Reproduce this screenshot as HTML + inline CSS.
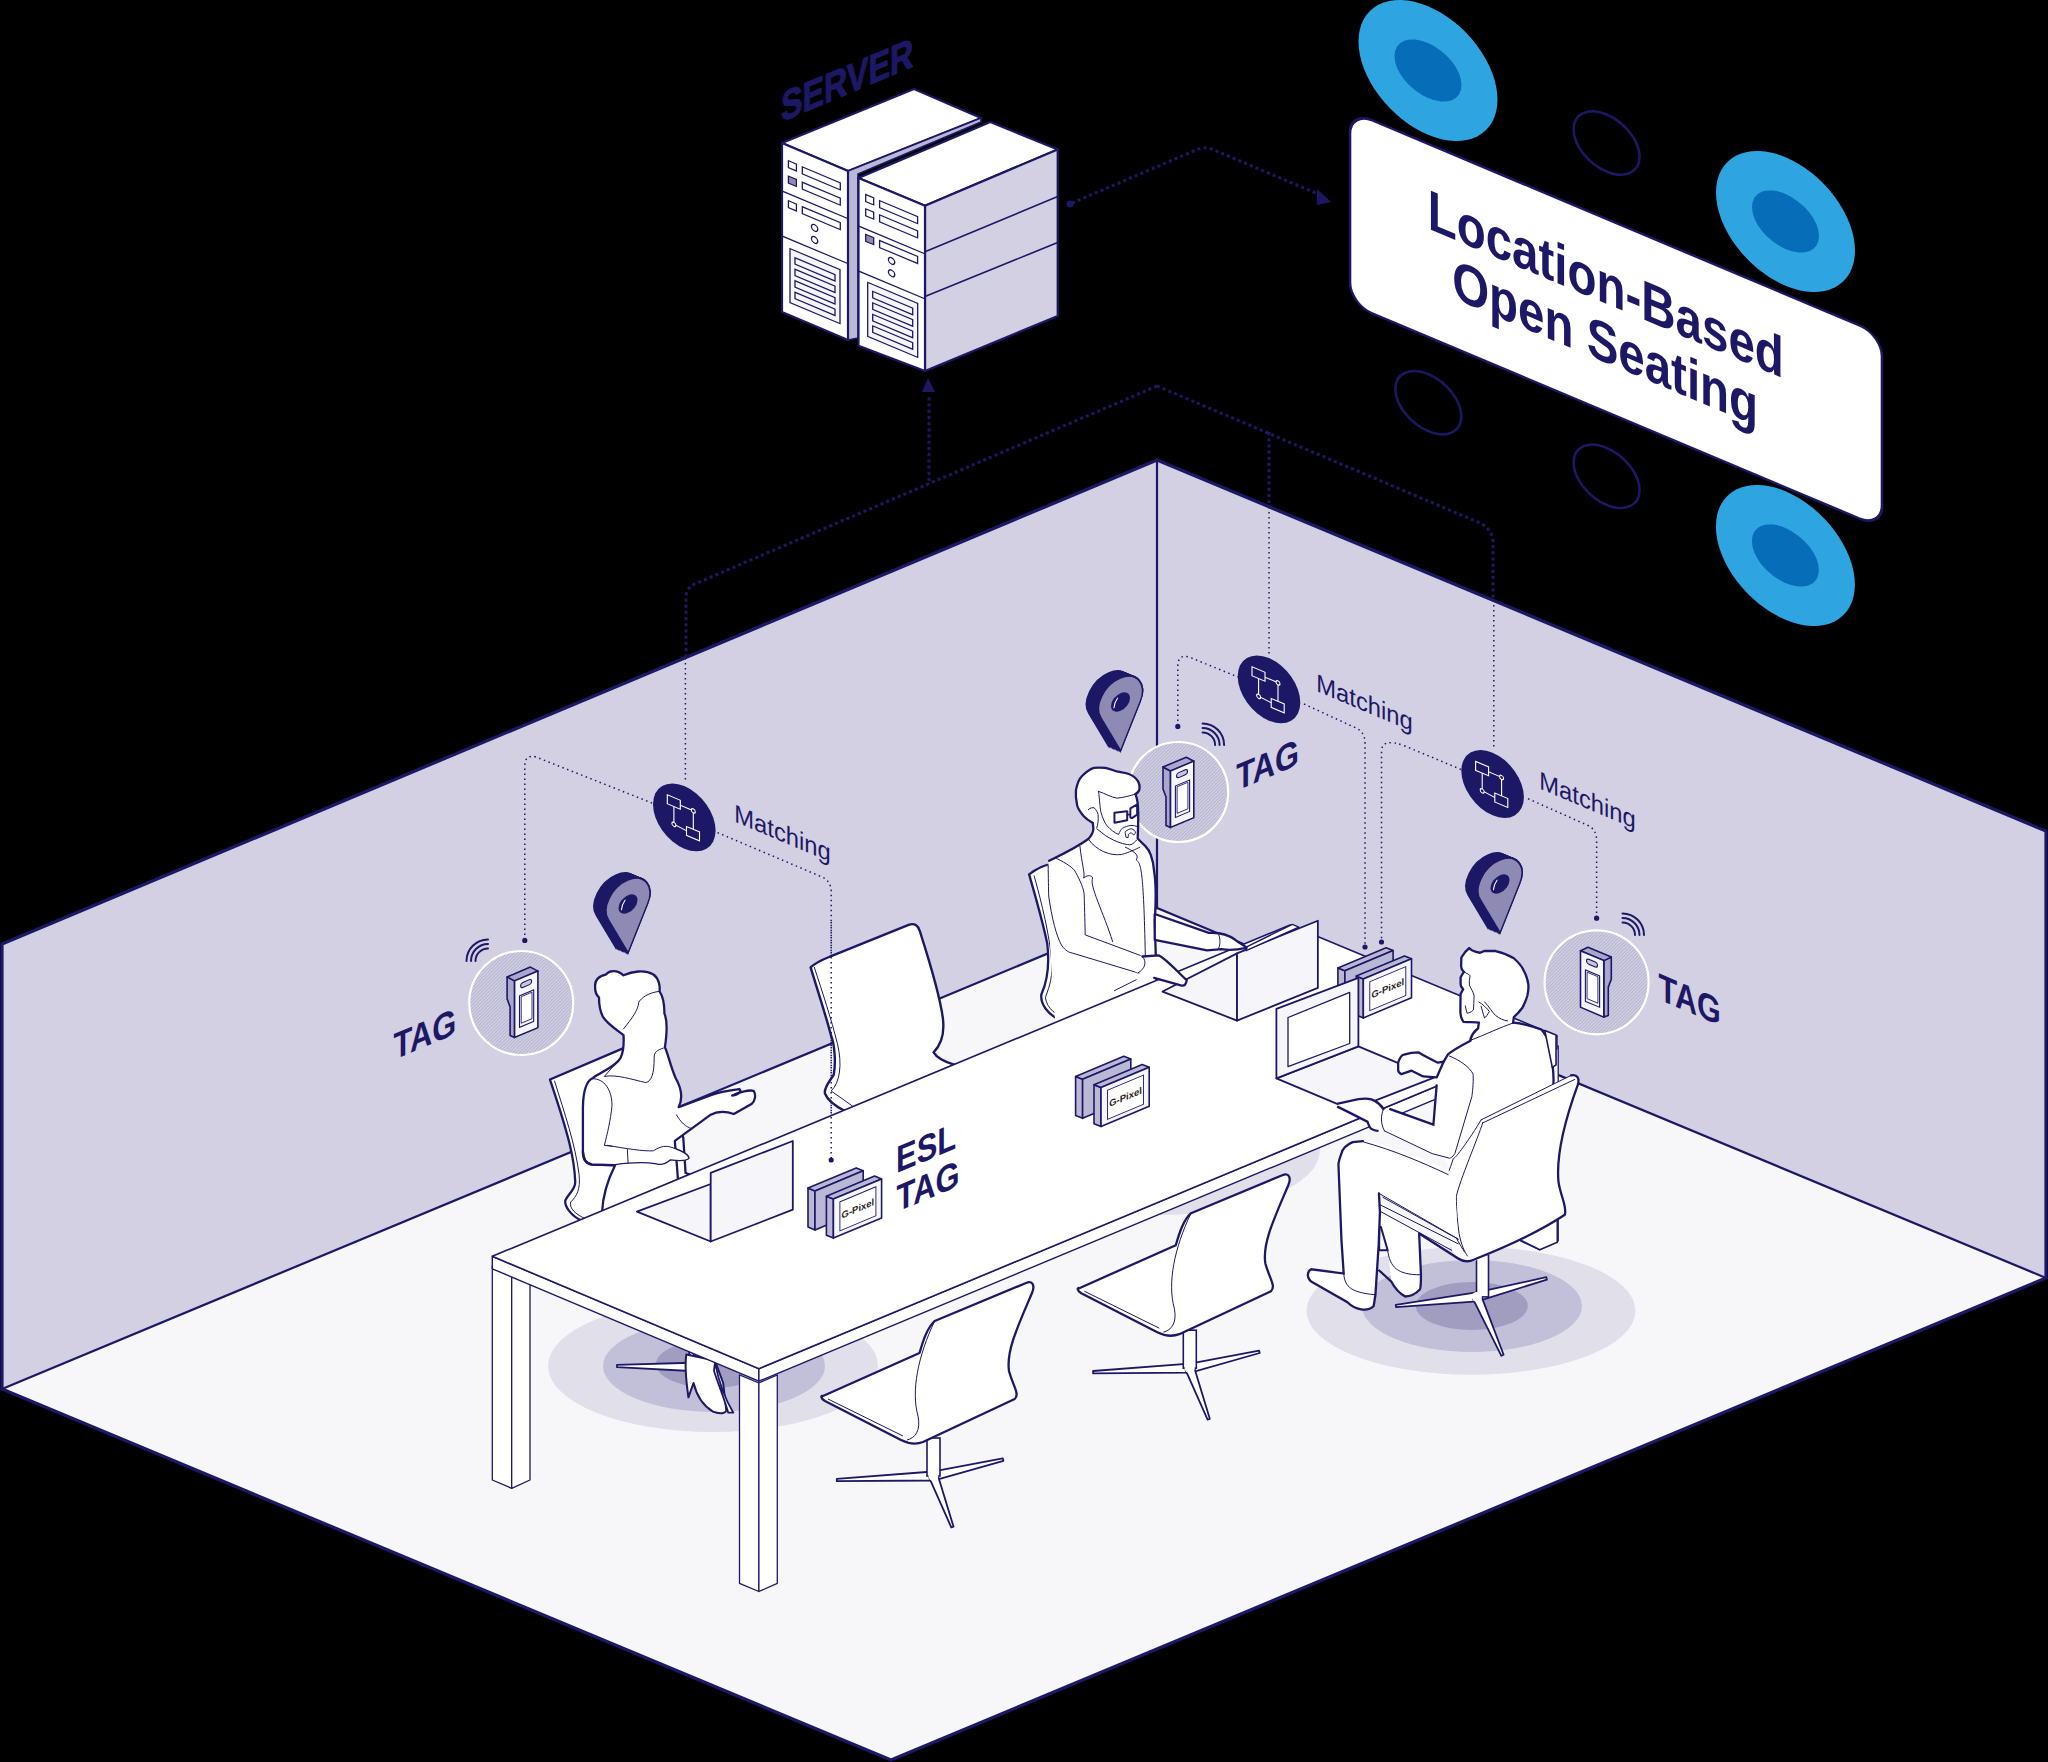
<!DOCTYPE html>
<html><head><meta charset="utf-8"><style>
html,body{margin:0;padding:0;background:#000;width:2048px;height:1762px;overflow:hidden}
svg{display:block}
</style></head><body>
<svg width="2048" height="1762" viewBox="0 0 2048 1762">
<defs>
<pattern id="hatch" patternUnits="userSpaceOnUse" width="2.4" height="2.4" patternTransform="rotate(-45)">
<rect width="2.4" height="2.4" fill="#d0cee1"/><rect width="2.4" height="0.9" fill="#b6b4cf"/>
</pattern>
</defs>
<rect width="2048" height="1762" fill="#000"/>
<g fill="none" stroke="#1d1866" stroke-width="3" stroke-dasharray="3 3.2">
<path d="M1072,203 L1196,150 Q1205,146 1214,150 L1318,194"/>
<path d="M929,481 L929,395"/>
<path d="M1157,386 L697,583 Q686,587 686,598 L686,657"/>
<path d="M1157,386 L1480,523 Q1493,530 1493,542 L1493,678"/>
<path d="M1269,432 L1269,503"/>
</g>
<circle cx="1070" cy="204" r="3.5" fill="#1d1866"/>
<path d="M1317,189 L1331,202 L1317,205 Z" fill="#1d1866"/>
<path d="M928,378 L935,392 L922,392 Z" fill="#1d1866"/>
<g stroke="#1d1866" stroke-linejoin="round">
<polygon points="782.0,143.0 914.0,89.0 981.0,118.0 848.0,171.0" fill="#ffffff" stroke-width="2.2"/>
<polygon points="848.0,171.0 981.0,118.0 981.0,122.0 858.0,174.0 858.0,338.0 848.0,340.0" fill="#bab8d6" stroke-width="1.6"/>
<polygon points="782.0,143.0 848.0,171.0 848.0,340.0 782.0,312.0" fill="#ffffff" stroke-width="2.2"/>
</g>
<g transform="matrix(1,0.419,0,1,782,143)" fill="none" stroke="#1d1866" stroke-width="1.3">
<path d="M0,48 L66,48 M0,93 L66,93"/>
<rect x="6.4" y="15" width="8" height="7"/>
<rect x="6.4" y="30.4" width="8" height="7" fill="#8e8ab3"/>
<rect x="20.3" y="15.4" width="38" height="7"/>
<rect x="20.3" y="30.7" width="38" height="7"/>
<rect x="6.4" y="55" width="8" height="7"/>
<rect x="20.3" y="55.2" width="38" height="7"/>
<circle cx="32.6" cy="71.2" r="3.2"/><circle cx="32.6" cy="83.3" r="3.2"/>
<rect x="8" y="102.3" width="50" height="54" fill="#f6f6fa"/>
<rect x="13" y="109.3" width="40" height="6.5"/>
<rect x="13" y="120.8" width="40" height="6.5"/>
<rect x="13" y="132.3" width="40" height="6.5"/>
<rect x="13" y="143.8" width="40" height="6.5"/>
</g>
<g stroke="#1d1866" stroke-linejoin="round">
<polygon points="858.5,178.0 990.3,122.0 1057.7,149.5 925.0,205.7" fill="#ffffff" stroke-width="2.2"/>
<polygon points="925.0,205.7 1057.7,149.5 1057.7,316.0 925.0,371.0" fill="#d2d0e2" stroke-width="2.2"/>
<polygon points="858.5,178.0 925.0,205.7 925.0,371.0 858.5,345.7" fill="#ffffff" stroke-width="2.2"/>
<path d="M925,251.7 L1057.7,196.5 M925,296.6 L1057.7,242.5" fill="none" stroke-width="1.6"/>
</g>
<g transform="matrix(1,0.419,0,1,858.5,178)" fill="none" stroke="#1d1866" stroke-width="1.3">
<path d="M0,48 L66.5,48 M0,93 L66.5,93"/>
<rect x="7.2" y="13.5" width="8" height="7"/>
<rect x="7.2" y="27.8" width="8" height="7"/>
<rect x="21.1" y="13.8" width="38" height="7"/>
<rect x="21.1" y="28.1" width="38" height="7"/>
<rect x="7.2" y="53.3" width="8" height="7" fill="#8e8ab3"/>
<rect x="21.1" y="53.7" width="38" height="7"/>
<circle cx="33.1" cy="69.1" r="3.2"/><circle cx="33.1" cy="81.4" r="3.2"/>
<rect x="9.2" y="100.5" width="50" height="54" fill="#f6f6fa"/>
<rect x="14.2" y="107.5" width="40" height="6.5"/>
<rect x="14.2" y="119.0" width="40" height="6.5"/>
<rect x="14.2" y="130.5" width="40" height="6.5"/>
<rect x="14.2" y="142.0" width="40" height="6.5"/>
</g>
<text transform="matrix(0.777,-0.3256,0,1,781,122)" font-family="Liberation Sans" font-weight="bold" font-size="41.6" fill="#1d1866" stroke="#1d1866" stroke-width="1.1">SERVER</text>
<ellipse cx="0" cy="0" rx="1" ry="1" transform="matrix(69.5,29.1,0,64.2,1428,70.5)" fill="#2ea4e0" vector-effect="non-scaling-stroke"/>
<ellipse cx="0" cy="0" rx="1" ry="1" transform="matrix(33.5,14.5,0,27.5,1428,70.5)" fill="#066db8" vector-effect="non-scaling-stroke"/>
<ellipse cx="0" cy="0" rx="1" ry="1" transform="matrix(69.5,29.1,0,64.2,1785.5,221.5)" fill="#2ea4e0" vector-effect="non-scaling-stroke"/>
<ellipse cx="0" cy="0" rx="1" ry="1" transform="matrix(33.5,14.5,0,27.5,1785.5,221.5)" fill="#066db8" vector-effect="non-scaling-stroke"/>
<ellipse cx="0" cy="0" rx="1" ry="1" transform="matrix(69.5,29.1,0,64.2,1785.4,555.5)" fill="#2ea4e0" vector-effect="non-scaling-stroke"/>
<ellipse cx="0" cy="0" rx="1" ry="1" transform="matrix(33.5,14.5,0,27.5,1785.4,555.5)" fill="#066db8" vector-effect="non-scaling-stroke"/>
<ellipse cx="0" cy="0" rx="1" ry="1" transform="matrix(33,13.8,0,28.5,1606.6,143)" fill="none" stroke="#1d1866" stroke-width="2.5" vector-effect="non-scaling-stroke"/>
<ellipse cx="0" cy="0" rx="1" ry="1" transform="matrix(33,13.8,0,28.5,1428.3,402.7)" fill="none" stroke="#1d1866" stroke-width="2.5" vector-effect="non-scaling-stroke"/>
<ellipse cx="0" cy="0" rx="1" ry="1" transform="matrix(33,13.8,0,28.5,1606.6,476.3)" fill="none" stroke="#1d1866" stroke-width="2.5" vector-effect="non-scaling-stroke"/>
<rect x="0" y="0" width="532" height="193" rx="22" ry="22" transform="matrix(1,0.421,0,1,1350,111)" fill="#ffffff" stroke="#1d1866" stroke-width="2.6"/>
<g font-family="Liberation Sans" font-weight="bold" font-size="57" fill="#1d1866" text-anchor="middle">
<text transform="matrix(0.833,0.3507,0,1,1605.75,303.5)">Location-Based</text>
<text transform="matrix(0.833,0.3507,0,1,1605.1,362.2)">Open Seating</text>
</g>
<polygon points="2.0,944.0 1157.0,460.0 1157.0,908.0 2.0,1389.0" fill="#d2d0e2"/>
<polygon points="1157.0,460.0 2046.0,831.0 2046.0,1278.0 1157.0,908.0" fill="#d2d0e2"/>
<polygon points="2.0,1389.0 1157.0,908.0 2046.0,1278.0 891.0,1760.0" fill="#f7f7fa"/>
<path d="M2,1389 L1157,908 L2046,1278 M1157,460 L1157,908" fill="none" stroke="#1d1866" stroke-width="2.2"/>
<polygon points="2.0,944.0 1157.0,460.0 2046.0,831.0 2046.0,1278.0 891.0,1760.0 2.0,1389.0" fill="none" stroke="#1d1866" stroke-width="3.2" stroke-linejoin="miter"/>
<g fill="none" stroke="#1d1866" stroke-width="1.5" stroke-dasharray="1.5 3.5" stroke-linecap="butt">
<path d="M524.8,940 L524.8,766 Q524.8,754 536,757 L652,803"/>
<path d="M717.5,832.6 L822,877 Q831.2,881 831.2,892 L831.2,1160"/>
<path d="M685.4,658 L685.4,780"/>
<path d="M1177.8,726 L1177.8,666 Q1177.8,654 1189,657 L1238,677"/>
<path d="M1304,704 L1356,728 Q1365,732 1365,743 L1365,947"/>
<path d="M1269,507 L1269,656"/>
<path d="M1596.6,918 L1596.6,840 Q1596.6,829 1587,825 L1525.5,797.6"/>
<path d="M1461,769.5 L1405,746 Q1381.5,737 1381.5,752 L1381.5,942"/>
<path d="M1493.8,600 L1493.8,750"/>
</g>
<circle cx="524.8" cy="940.4" r="2.6" fill="#1d1866"/>
<circle cx="831.2" cy="1160" r="2.6" fill="#1d1866"/>
<circle cx="1177.8" cy="726.4" r="2.6" fill="#1d1866"/>
<circle cx="1365" cy="947" r="2.6" fill="#1d1866"/>
<circle cx="1596.6" cy="918.2" r="2.6" fill="#1d1866"/>
<circle cx="1381.5" cy="942" r="2.6" fill="#1d1866"/>
<ellipse cx="0" cy="0" rx="31.3" ry="31.3" transform="matrix(1,0.42,0,1,684.3,817.4)" fill="#1d1866"/>
<g transform="matrix(1,0.42,0,1,684.3,817.4)" fill="none" stroke="#ffffff" stroke-width="1.1">
<rect x="-17" y="-15.5" width="13" height="9"/>
<rect x="2.2" y="8.1" width="13" height="9"/>
<path d="M-4,-10.5 L7,-10.5 M9,-8.3 L9,8.1 M-10.4,-6.5 L-10.4,9.3 M-8.4,11.3 L2.2,12.5"/>
<circle cx="9" cy="-10.3" r="2"/><circle cx="-10.4" cy="11.3" r="2"/>
</g>
<text transform="matrix(0.94,0.3948,0,1,734.3,821.5)" font-family="Liberation Sans" font-size="25.3" fill="#1d1866">Matching</text>
<ellipse cx="0" cy="0" rx="31.3" ry="31.3" transform="matrix(1,0.42,0,1,1269,689.4)" fill="#1d1866"/>
<g transform="matrix(1,0.42,0,1,1269,689.4)" fill="none" stroke="#ffffff" stroke-width="1.1">
<rect x="-17" y="-15.5" width="13" height="9"/>
<rect x="2.2" y="8.1" width="13" height="9"/>
<path d="M-4,-10.5 L7,-10.5 M9,-8.3 L9,8.1 M-10.4,-6.5 L-10.4,9.3 M-8.4,11.3 L2.2,12.5"/>
<circle cx="9" cy="-10.3" r="2"/><circle cx="-10.4" cy="11.3" r="2"/>
</g>
<text transform="matrix(0.94,0.3948,0,1,1316.3,691)" font-family="Liberation Sans" font-size="25.3" fill="#1d1866">Matching</text>
<ellipse cx="0" cy="0" rx="31.3" ry="31.3" transform="matrix(1,0.42,0,1,1492.6,784)" fill="#1d1866"/>
<g transform="matrix(1,0.42,0,1,1492.6,784)" fill="none" stroke="#ffffff" stroke-width="1.1">
<rect x="-17" y="-15.5" width="13" height="9"/>
<rect x="2.2" y="8.1" width="13" height="9"/>
<path d="M-4,-10.5 L7,-10.5 M9,-8.3 L9,8.1 M-10.4,-6.5 L-10.4,9.3 M-8.4,11.3 L2.2,12.5"/>
<circle cx="9" cy="-10.3" r="2"/><circle cx="-10.4" cy="11.3" r="2"/>
</g>
<text transform="matrix(0.94,0.3948,0,1,1539.3,788.5)" font-family="Liberation Sans" font-size="25.3" fill="#1d1866">Matching</text>
<path d="M0,51 L-19.6,10 A22,22 0 1 1 19.6,10 Z" transform="matrix(1,-0.42,0,1,628.00,902.00)" fill="#1d1866" stroke="#1d1866" stroke-width="1.5"/>
<path d="M0,51 L-19.6,10 A22,22 0 1 1 19.6,10 Z" transform="matrix(1,-0.42,0,1,626.67,901.44)" fill="#1d1866" stroke="#1d1866" stroke-width="1.5"/>
<path d="M0,51 L-19.6,10 A22,22 0 1 1 19.6,10 Z" transform="matrix(1,-0.42,0,1,625.33,900.89)" fill="#1d1866" stroke="#1d1866" stroke-width="1.5"/>
<path d="M0,51 L-19.6,10 A22,22 0 1 1 19.6,10 Z" transform="matrix(1,-0.42,0,1,624.00,900.33)" fill="#1d1866" stroke="#1d1866" stroke-width="1.5"/>
<path d="M0,51 L-19.6,10 A22,22 0 1 1 19.6,10 Z" transform="matrix(1,-0.42,0,1,622.67,899.78)" fill="#1d1866" stroke="#1d1866" stroke-width="1.5"/>
<path d="M0,51 L-19.6,10 A22,22 0 1 1 19.6,10 Z" transform="matrix(1,-0.42,0,1,621.33,899.22)" fill="#1d1866" stroke="#1d1866" stroke-width="1.5"/>
<path d="M0,51 L-19.6,10 A22,22 0 1 1 19.6,10 Z" transform="matrix(1,-0.42,0,1,620.00,898.67)" fill="#1d1866" stroke="#1d1866" stroke-width="1.5"/>
<path d="M0,51 L-19.6,10 A22,22 0 1 1 19.6,10 Z" transform="matrix(1,-0.42,0,1,618.67,898.11)" fill="#1d1866" stroke="#1d1866" stroke-width="1.5"/>
<path d="M0,51 L-19.6,10 A22,22 0 1 1 19.6,10 Z" transform="matrix(1,-0.42,0,1,617.33,897.56)" fill="#1d1866" stroke="#1d1866" stroke-width="1.5"/>
<path d="M0,51 L-19.6,10 A22,22 0 1 1 19.6,10 Z" transform="matrix(1,-0.42,0,1,616.00,897.00)" fill="#1d1866" stroke="#1d1866" stroke-width="1.5"/>
<path d="M0,51 L-19.6,10 A22,22 0 1 1 19.6,10 Z" transform="matrix(1,-0.42,0,1,628,902)" fill="#8e8ab3" stroke="#1d1866" stroke-width="1.6"/>
<ellipse cx="0" cy="2" rx="9.5" ry="8.8" transform="matrix(1,-0.42,0,1,628,902)" fill="#1d1866"/>
<path d="M-6.5,5 Q-6,0 -3,-3" transform="matrix(1,-0.42,0,1,628,902)" fill="none" stroke="#ffffff" stroke-width="1.2" stroke-linecap="round"/>
<path d="M0,51 L-19.6,10 A22,22 0 1 1 19.6,10 Z" transform="matrix(1,-0.42,0,1,1120.50,700.00)" fill="#1d1866" stroke="#1d1866" stroke-width="1.5"/>
<path d="M0,51 L-19.6,10 A22,22 0 1 1 19.6,10 Z" transform="matrix(1,-0.42,0,1,1119.17,699.44)" fill="#1d1866" stroke="#1d1866" stroke-width="1.5"/>
<path d="M0,51 L-19.6,10 A22,22 0 1 1 19.6,10 Z" transform="matrix(1,-0.42,0,1,1117.83,698.89)" fill="#1d1866" stroke="#1d1866" stroke-width="1.5"/>
<path d="M0,51 L-19.6,10 A22,22 0 1 1 19.6,10 Z" transform="matrix(1,-0.42,0,1,1116.50,698.33)" fill="#1d1866" stroke="#1d1866" stroke-width="1.5"/>
<path d="M0,51 L-19.6,10 A22,22 0 1 1 19.6,10 Z" transform="matrix(1,-0.42,0,1,1115.17,697.78)" fill="#1d1866" stroke="#1d1866" stroke-width="1.5"/>
<path d="M0,51 L-19.6,10 A22,22 0 1 1 19.6,10 Z" transform="matrix(1,-0.42,0,1,1113.83,697.22)" fill="#1d1866" stroke="#1d1866" stroke-width="1.5"/>
<path d="M0,51 L-19.6,10 A22,22 0 1 1 19.6,10 Z" transform="matrix(1,-0.42,0,1,1112.50,696.67)" fill="#1d1866" stroke="#1d1866" stroke-width="1.5"/>
<path d="M0,51 L-19.6,10 A22,22 0 1 1 19.6,10 Z" transform="matrix(1,-0.42,0,1,1111.17,696.11)" fill="#1d1866" stroke="#1d1866" stroke-width="1.5"/>
<path d="M0,51 L-19.6,10 A22,22 0 1 1 19.6,10 Z" transform="matrix(1,-0.42,0,1,1109.83,695.56)" fill="#1d1866" stroke="#1d1866" stroke-width="1.5"/>
<path d="M0,51 L-19.6,10 A22,22 0 1 1 19.6,10 Z" transform="matrix(1,-0.42,0,1,1108.50,695.00)" fill="#1d1866" stroke="#1d1866" stroke-width="1.5"/>
<path d="M0,51 L-19.6,10 A22,22 0 1 1 19.6,10 Z" transform="matrix(1,-0.42,0,1,1120.5,700)" fill="#8e8ab3" stroke="#1d1866" stroke-width="1.6"/>
<ellipse cx="0" cy="2" rx="9.5" ry="8.8" transform="matrix(1,-0.42,0,1,1120.5,700)" fill="#1d1866"/>
<path d="M-6.5,5 Q-6,0 -3,-3" transform="matrix(1,-0.42,0,1,1120.5,700)" fill="none" stroke="#ffffff" stroke-width="1.2" stroke-linecap="round"/>
<path d="M0,51 L-19.6,10 A22,22 0 1 1 19.6,10 Z" transform="matrix(1,-0.42,0,1,1500.00,882.00)" fill="#1d1866" stroke="#1d1866" stroke-width="1.5"/>
<path d="M0,51 L-19.6,10 A22,22 0 1 1 19.6,10 Z" transform="matrix(1,-0.42,0,1,1498.67,881.44)" fill="#1d1866" stroke="#1d1866" stroke-width="1.5"/>
<path d="M0,51 L-19.6,10 A22,22 0 1 1 19.6,10 Z" transform="matrix(1,-0.42,0,1,1497.33,880.89)" fill="#1d1866" stroke="#1d1866" stroke-width="1.5"/>
<path d="M0,51 L-19.6,10 A22,22 0 1 1 19.6,10 Z" transform="matrix(1,-0.42,0,1,1496.00,880.33)" fill="#1d1866" stroke="#1d1866" stroke-width="1.5"/>
<path d="M0,51 L-19.6,10 A22,22 0 1 1 19.6,10 Z" transform="matrix(1,-0.42,0,1,1494.67,879.78)" fill="#1d1866" stroke="#1d1866" stroke-width="1.5"/>
<path d="M0,51 L-19.6,10 A22,22 0 1 1 19.6,10 Z" transform="matrix(1,-0.42,0,1,1493.33,879.22)" fill="#1d1866" stroke="#1d1866" stroke-width="1.5"/>
<path d="M0,51 L-19.6,10 A22,22 0 1 1 19.6,10 Z" transform="matrix(1,-0.42,0,1,1492.00,878.67)" fill="#1d1866" stroke="#1d1866" stroke-width="1.5"/>
<path d="M0,51 L-19.6,10 A22,22 0 1 1 19.6,10 Z" transform="matrix(1,-0.42,0,1,1490.67,878.11)" fill="#1d1866" stroke="#1d1866" stroke-width="1.5"/>
<path d="M0,51 L-19.6,10 A22,22 0 1 1 19.6,10 Z" transform="matrix(1,-0.42,0,1,1489.33,877.56)" fill="#1d1866" stroke="#1d1866" stroke-width="1.5"/>
<path d="M0,51 L-19.6,10 A22,22 0 1 1 19.6,10 Z" transform="matrix(1,-0.42,0,1,1488.00,877.00)" fill="#1d1866" stroke="#1d1866" stroke-width="1.5"/>
<path d="M0,51 L-19.6,10 A22,22 0 1 1 19.6,10 Z" transform="matrix(1,-0.42,0,1,1500,882)" fill="#8e8ab3" stroke="#1d1866" stroke-width="1.6"/>
<ellipse cx="0" cy="2" rx="9.5" ry="8.8" transform="matrix(1,-0.42,0,1,1500,882)" fill="#1d1866"/>
<path d="M-6.5,5 Q-6,0 -3,-3" transform="matrix(1,-0.42,0,1,1500,882)" fill="none" stroke="#ffffff" stroke-width="1.2" stroke-linecap="round"/>
<circle cx="521.2" cy="1003" r="52" fill="url(#hatch)" stroke="#ffffff" stroke-width="2.2"/>
<g stroke="#1d1866" stroke-width="1.6" stroke-linejoin="round">
<polygon points="514.6,980.9 507.1,976.9 507.1,998.9 510.1,1006.9 510.1,1035.4 514.6,1037.4" fill="#a9a7cb"/>
<polygon points="514.6,980.9 507.1,976.9 530.4,967.1 537.9,971.1" fill="#a9a7cb"/>
<g transform="matrix(1,-0.42,0,1,514.6,980.9)">
<rect x="0" y="0" width="23.3" height="56.5" fill="#f6f6fa"/>
<rect x="6" y="5" width="11" height="5" rx="2.5" fill="#c9c7dc" stroke-width="1.1"/>
<rect x="4.9" y="17" width="14.2" height="31.5" fill="#f6f6fa" stroke-width="1.1"/>
<rect x="6.6" y="18.6" width="10.8" height="26.5" fill="#ffffff" stroke-width="0.8"/>
</g></g>
<circle cx="1178.2" cy="792" r="50" fill="url(#hatch)" stroke="#ffffff" stroke-width="2.2"/>
<g stroke="#1d1866" stroke-width="1.6" stroke-linejoin="round">
<polygon points="1170.5,771.0 1163.0,767.0 1163.0,789.0 1166.0,797.0 1166.0,825.5 1170.5,827.5" fill="#a9a7cb"/>
<polygon points="1170.5,771.0 1163.0,767.0 1186.3,757.2 1193.8,761.2" fill="#a9a7cb"/>
<g transform="matrix(1,-0.42,0,1,1170.5,771)">
<rect x="0" y="0" width="23.3" height="56.5" fill="#f6f6fa"/>
<rect x="6" y="5" width="11" height="5" rx="2.5" fill="#c9c7dc" stroke-width="1.1"/>
<rect x="4.9" y="17" width="14.2" height="31.5" fill="#f6f6fa" stroke-width="1.1"/>
<rect x="6.6" y="18.6" width="10.8" height="26.5" fill="#ffffff" stroke-width="0.8"/>
</g></g>
<circle cx="1596.6" cy="982.3" r="52" fill="url(#hatch)" stroke="#ffffff" stroke-width="2.2"/>
<g stroke="#1d1866" stroke-width="1.6" stroke-linejoin="round">
<polygon points="1603.8,960.6 1611.3,957.1 1611.3,979.1 1608.3,987.1 1608.3,1015.6 1603.8,1017.1" fill="#a9a7cb"/>
<polygon points="1580.5,950.8 1588.0,947.3 1611.3,957.1 1603.8,960.6" fill="#a9a7cb"/>
<g transform="matrix(1,0.42,0,1,1580.5,950.8)">
<rect x="0" y="0" width="23.3" height="56.5" fill="#f6f6fa"/>
<rect x="6" y="5" width="11" height="5" rx="2.5" fill="#c9c7dc" stroke-width="1.1"/>
<rect x="4.9" y="17" width="14.2" height="31.5" fill="#f6f6fa" stroke-width="1.1"/>
<rect x="6.6" y="18.6" width="10.8" height="26.5" fill="#ffffff" stroke-width="0.8"/>
</g></g>
<g fill="none" stroke="#1d1866" stroke-width="2" stroke-linecap="round">
<path d="M475.5,961 A12.5,12.5 0 0 1 488,948.5"/>
<path d="M471,961 A17,17 0 0 1 488,944"/>
<path d="M466.5,961 A21.5,21.5 0 0 1 488,939.5"/>
</g>
<g fill="none" stroke="#1d1866" stroke-width="2" stroke-linecap="round">
<path d="M1202.6,732.5 A12.5,12.5 0 0 1 1215.1,745"/>
<path d="M1202.6,728 A17,17 0 0 1 1219.6,745"/>
<path d="M1202.6,723.5 A21.5,21.5 0 0 1 1224.1,745"/>
</g>
<g fill="none" stroke="#1d1866" stroke-width="2" stroke-linecap="round">
<path d="M1622.5,922.5 A12.5,12.5 0 0 1 1635.0,935"/>
<path d="M1622.5,918 A17,17 0 0 1 1639.5,935"/>
<path d="M1622.5,913.5 A21.5,21.5 0 0 1 1644.0,935"/>
</g>
<text transform="matrix(0.82,-0.3428,0,1,393.5,1060)" font-family="Liberation Sans" font-weight="bold" font-size="37.6" fill="#1d1866">TAG</text>
<text transform="matrix(0.82,-0.3428,0,1,1236.3,790.8)" font-family="Liberation Sans" font-weight="bold" font-size="37.6" fill="#1d1866">TAG</text>
<text transform="matrix(0.8,0.3360,0,1,1658.5,999.6)" font-family="Liberation Sans" font-weight="bold" font-size="38.2" fill="#1d1866">TAG</text>
<ellipse cx="713" cy="1366" rx="165" ry="66" fill="#e0dfea"/>
<ellipse cx="714" cy="1366" rx="111" ry="46" fill="#c2c0d8"/>
<ellipse cx="712" cy="1364" rx="56" ry="24" fill="#a09dc0"/>
<ellipse cx="1471" cy="1310.7" rx="164.5" ry="64" fill="#e0dfea"/>
<ellipse cx="1472" cy="1306" rx="110" ry="46" fill="#c2c0d8"/>
<ellipse cx="1471.8" cy="1306" rx="56" ry="24" fill="#a09dc0"/>
<ellipse cx="1160" cy="1150" rx="160" ry="65" fill="#e0dfea"/>
<polygon points="700.1,1362.5 617.0,1364.8 617.0,1367.2 699.9,1371.5" fill="#ffffff" stroke="#1d1866" stroke-width="1.8" stroke-linejoin="round"/>
<polygon points="703.7,1364.5 691.0,1351.3 689.0,1352.7 696.3,1369.5" fill="#ffffff" stroke="#1d1866" stroke-width="1.8" stroke-linejoin="round"/>
<circle cx="700" cy="1367" r="5" fill="#ffffff"/>
<g transform="translate(480,1240) scale(0.204332)"><path d="M1010,560 C1000,620 1010,700 1020,770 L1045,700 C1060,760 1090,810 1140,840 C1180,855 1210,845 1205,830 L1190,700 L1150,590 Z" fill="#ffffff" stroke="#1d1866" stroke-width="2.0" stroke-linejoin="round" vector-effect="non-scaling-stroke"/><path d="M1150,600 C1170,700 1200,780 1240,845 L1215,845 C1190,760 1160,690 1145,640 Z" fill="#ffffff" stroke="#1d1866" stroke-width="1.8" stroke-linejoin="round" vector-effect="non-scaling-stroke"/></g>
<g transform="translate(790,900) scale(0.124844)"><path d="M165,540 C220,490 280,470 330,450 L950,200 C1000,180 1030,210 1040,250 C1120,500 1200,760 1225,950 C1240,1080 1210,1160 1150,1220 C1180,1270 1250,1300 1320,1320 L440,1690 C360,1650 300,1600 280,1550 C270,1500 320,1450 350,1400 C370,1300 355,1150 330,1090 C280,900 220,720 165,540 Z" fill="#ffffff" stroke="#1d1866" stroke-width="2.4" stroke-linejoin="round" vector-effect="non-scaling-stroke"/><path d="M195,540 C260,740 330,950 380,1150 C420,1320 400,1460 330,1530 L500,1650" fill="none" stroke="#1d1866" stroke-width="1.0" stroke-linecap="round" vector-effect="non-scaling-stroke"/></g>
<g transform="translate(540,960) scale(0.153233)"><path d="M65,780 L545,575 L545,700 L880,960 L935,1160 L950,1390 L980,1400 L270,1700 C205,1670 160,1610 165,1570 C180,1530 230,1500 230,1450 C225,1300 190,1150 65,780 Z" fill="#ffffff" stroke="#1d1866" stroke-width="2.3" stroke-linejoin="round" vector-effect="non-scaling-stroke"/><path d="M95,790 C160,1000 230,1200 255,1400 C265,1500 240,1540 200,1580 C190,1620 230,1660 300,1690" fill="none" stroke="#1d1866" stroke-width="1.0" stroke-linecap="round" vector-effect="non-scaling-stroke"/><path d="M360,175 C355,130 390,100 430,95 C450,70 500,60 545,100 C600,75 680,60 740,95 C775,120 785,170 780,205 C805,240 812,300 812,350 C830,390 830,470 815,570 C835,610 850,690 885,770 C925,840 935,900 905,960 L1120,880 C1180,858 1250,848 1300,842 C1320,855 1300,878 1255,885 C1300,860 1370,845 1395,855 C1410,880 1405,920 1380,940 L1265,1005 C1210,985 1150,990 1110,1012 L880,1180 C885,1260 895,1340 900,1435 L405,1645 C410,1540 440,1440 490,1340 L340,1335 C295,1330 280,1300 280,1250 L280,960 C282,860 300,790 345,770 C420,720 500,690 525,640 C545,600 548,540 545,490 C500,455 440,420 410,370 C390,330 385,290 385,245 C365,225 358,200 360,175 Z" fill="#ffffff" stroke="#1d1866" stroke-width="2.3" stroke-linejoin="round" vector-effect="non-scaling-stroke"/><path d="M440,1210 C560,1230 680,1250 740,1245 C790,1215 820,1205 880,1230 C930,1250 975,1270 972,1295 C960,1310 900,1310 850,1305 C820,1330 790,1340 760,1330 C700,1320 600,1320 480,1335 Z" fill="#ffffff" stroke="none"/><path d="M440,1210 C560,1230 680,1250 740,1245 C790,1215 820,1205 880,1230" fill="none" stroke="#1d1866" stroke-width="1.0" stroke-linecap="round" vector-effect="non-scaling-stroke"/><path d="M880,1230 C930,1250 975,1270 972,1295 C960,1310 900,1310 850,1305 C820,1330 790,1340 760,1330 C700,1320 600,1320 490,1335" fill="none" stroke="#1d1866" stroke-width="1.3" stroke-linecap="round" vector-effect="non-scaling-stroke"/><path d="M280,1250 C282,1300 300,1330 340,1335 L490,1338" fill="none" stroke="#1d1866" stroke-width="2.3" stroke-linecap="round" vector-effect="non-scaling-stroke"/><path d="M775,205 C700,215 660,250 645,275 C640,330 600,380 545,450" fill="none" stroke="#1d1866" stroke-width="1.0" stroke-linecap="round" vector-effect="non-scaling-stroke"/><path d="M525,640 L420,760 C500,745 600,780 690,800 C730,790 745,740 745,640 C745,600 760,590 805,575" fill="none" stroke="#1d1866" stroke-width="1.0" stroke-linecap="round" vector-effect="non-scaling-stroke"/><path d="M340,775 C420,770 470,850 470,950 C460,1050 440,1130 420,1210 L470,1215" fill="none" stroke="#1d1866" stroke-width="1.0" stroke-linecap="round" vector-effect="non-scaling-stroke"/><path d="M570,1235 L575,1325" fill="none" stroke="#1d1866" stroke-width="1.0" stroke-linecap="round" vector-effect="non-scaling-stroke"/><path d="M890,1010 C920,1060 950,1090 990,1100" fill="none" stroke="#1d1866" stroke-width="1.0" stroke-linecap="round" vector-effect="non-scaling-stroke"/><path d="M1250,885 C1270,880 1290,875 1300,860" fill="none" stroke="#1d1866" stroke-width="1.0" stroke-linecap="round" vector-effect="non-scaling-stroke"/></g>
<g transform="translate(1020,740) scale(0.181620)"><path d="M50,740 C90,710 130,690 165,685 L300,620 L300,1560 L225,1545 C150,1510 110,1450 118,1400 C150,1330 165,1250 150,1120 C120,980 85,860 50,740 Z" fill="#ffffff" stroke="none"/><path d="M300,620 L165,685 C130,690 90,710 50,740 C85,860 120,980 150,1120 C165,1250 150,1330 118,1400 C110,1450 150,1510 225,1545" fill="none" stroke="#1d1866" stroke-width="2.3" stroke-linecap="round" vector-effect="non-scaling-stroke"/><path d="M78,748 C120,900 165,1080 175,1230 C180,1330 150,1380 140,1420 C150,1480 200,1520 260,1530" fill="none" stroke="#1d1866" stroke-width="1.0" stroke-linecap="round" vector-effect="non-scaling-stroke"/><path d="M160,665 C200,645 300,600 376,545 C395,525 404,505 404,489 L401,457 C380,445 360,430 351,420 C330,395 318,380 314,357 C308,330 306,300 308,276 C315,240 325,215 339,201 C360,180 385,160 408,154 C430,150 450,152 470,154 C500,160 515,168 533,173 C560,178 580,180 595,186 C620,195 640,210 651,229 C660,245 660,258 658,270 C655,285 645,293 636,298 C642,315 647,330 648,348 C650,380 652,400 651,426 C651,470 649,510 648,542 C660,555 675,570 689,583 C705,600 715,615 720,633 C730,660 736,690 738,720 C752,800 748,900 742,1000 L752,1330 L510,1445 L200,1600 C175,1400 160,1000 150,700 Z" fill="#ffffff" stroke="none"/><path d="M160,665 C200,645 300,600 376,545 C395,525 404,505 404,489 L401,457 C380,445 360,430 351,420 C330,395 318,380 314,357 C308,330 306,300 308,276 C315,240 325,215 339,201 C360,180 385,160 408,154 C430,150 450,152 470,154 C500,160 515,168 533,173 C560,178 580,180 595,186 C620,195 640,210 651,229 C660,245 660,258 658,270 C655,285 645,293 636,298 C642,315 647,330 648,348 C650,380 652,400 651,426 C651,470 649,510 648,542 C660,555 675,570 689,583 C705,600 715,615 720,633 C730,660 736,690 738,720 C752,800 748,900 742,1000 L752,1330" fill="none" stroke="#1d1866" stroke-width="2.3" stroke-linecap="round" vector-effect="non-scaling-stroke"/><path d="M155,687 C156,760 157,820 158,859 C175,980 200,1080 230,1132 C250,1160 270,1170 288,1173 L662,1286" fill="none" stroke="#1d1866" stroke-width="1.0" stroke-linecap="round" vector-effect="non-scaling-stroke"/><path d="M199,651 C260,680 300,710 306,728 C335,780 350,820 353,847 C356,950 358,1020 359,1073 L662,1186" fill="none" stroke="#1d1866" stroke-width="1.0" stroke-linecap="round" vector-effect="non-scaling-stroke"/><path d="M433,283 C470,295 500,315 533,320 C570,318 610,305 636,298" fill="none" stroke="#1d1866" stroke-width="1.0" stroke-linecap="round" vector-effect="non-scaling-stroke"/><path d="M433,283 C438,330 440,370 445,395 C455,430 465,455 480,473 C500,495 520,510 542,520 C550,505 555,492 564,486 C580,478 595,472 611,470 C625,470 635,473 645,476" fill="none" stroke="#1d1866" stroke-width="1.0" stroke-linecap="round" vector-effect="non-scaling-stroke"/><path d="M423,489 C440,500 455,515 470,526 C500,545 530,560 564,570 C585,575 600,578 611,576 C625,570 635,560 642,551" fill="none" stroke="#1d1866" stroke-width="1.0" stroke-linecap="round" vector-effect="non-scaling-stroke"/><path d="M583,533 C580,520 578,510 580,505 C590,495 605,488 614,489 C625,492 633,500 636,508 C633,518 630,522 627,523 C620,518 615,512 611,511 C605,512 600,516 598,520 C596,528 595,532 595,536 Z" fill="none" stroke="#1d1866" stroke-width="1.0" stroke-linecap="round" vector-effect="non-scaling-stroke"/><path d="M520,401 L589,392 C592,392 591,395 591,398 L590,442 L522,456 C520,456 519,453 520,450 Z" fill="#ffffff" stroke="#1d1866" stroke-width="2.0" stroke-linejoin="round" vector-effect="non-scaling-stroke"/><path d="M608,376 L645,355 L645,411 L617,430 C610,430 607,425 607,420 Z" fill="#ffffff" stroke="#1d1866" stroke-width="2.0" stroke-linejoin="round" vector-effect="non-scaling-stroke"/><path d="M589,412 L608,410" fill="none" stroke="#1d1866" stroke-width="1.5" stroke-linecap="round" vector-effect="non-scaling-stroke"/><path d="M376,383 C390,372 400,372 408,373 C420,385 428,400 430,411 C432,440 430,465 423,483" fill="none" stroke="#1d1866" stroke-width="1.0" stroke-linecap="round" vector-effect="non-scaling-stroke"/><path d="M376,545 C420,610 500,640 560,630 C600,620 640,600 660,590" fill="none" stroke="#1d1866" stroke-width="1.0" stroke-linecap="round" vector-effect="non-scaling-stroke"/><path d="M330,585 C340,680 360,740 350,760 C375,740 395,745 400,760 C380,800 460,950 510,1110" fill="none" stroke="#1d1866" stroke-width="1.0" stroke-linecap="round" vector-effect="non-scaling-stroke"/><path d="M580,590 C620,610 660,630 640,660 C665,680 680,700 690,1190" fill="none" stroke="#1d1866" stroke-width="1.0" stroke-linecap="round" vector-effect="non-scaling-stroke"/><path d="M520,1380 C560,1360 600,1340 640,1320" fill="none" stroke="#1d1866" stroke-width="1.0" stroke-linecap="round" vector-effect="non-scaling-stroke"/></g>
<g fill="#ffffff" stroke="#1d1866" stroke-width="1.3" stroke-linejoin="round">
<polygon points="492.3,1266.0 511.7,1274.0 511.7,1488.3 492.3,1480.0"/>
<polygon points="511.7,1274.0 530.0,1266.0 530.0,1480.0 511.7,1488.3"/>
<polygon points="739.5,1375.0 758.9,1383.0 758.9,1591.5 739.5,1583.3"/>
<polygon points="758.9,1383.0 777.3,1375.0 777.3,1583.3 758.9,1591.5"/>
<polygon points="1520.6,1046.0 1539.4,1054.0 1539.4,1249.7 1520.6,1241.0"/>
<polygon points="1539.4,1054.0 1558.2,1046.0 1558.2,1241.0 1539.4,1249.7"/>
</g>
<polygon points="492.3,1256.3 758.9,1368.7 758.9,1381.2 492.3,1268.8" fill="#ffffff" stroke="#1d1866" stroke-width="1.4" stroke-linejoin="round"/>
<polygon points="758.9,1368.7 1557.0,1036.0 1557.0,1048.5 758.9,1381.2" fill="#ffffff" stroke="#1d1866" stroke-width="1.4" stroke-linejoin="round"/>
<polygon points="492.3,1256.3 758.9,1368.7 1557.0,1036.0 1290.0,925.0" fill="#ffffff" stroke="#1d1866" stroke-width="1.6" stroke-linejoin="round"/>
<polygon points="636.9,1211.7 710.7,1184.0 710.7,1241.5" fill="#f6f6fa" stroke="#1d1866" stroke-width="1.8" stroke-linejoin="round"/>
<polygon points="710.7,1172.8 792.8,1141.0 792.8,1209.7 710.7,1241.5" fill="#f6f6fa" stroke="#1d1866" stroke-width="1.8" stroke-linejoin="round"/>
<g transform="translate(1020,740) scale(0.181620)"><path d="M785,1385 L1195,1175 L1195,1545 Z" fill="#f6f6fa" stroke="#1d1866" stroke-width="1.8" stroke-linejoin="round" vector-effect="non-scaling-stroke"/><path d="M1195,1175 L1640,995 L1640,1365 L1195,1545 Z" fill="#f6f6fa" stroke="#1d1866" stroke-width="1.8" stroke-linejoin="round" vector-effect="non-scaling-stroke"/><path d="M1245,1140 L1500,1015 L1535,1030 L1245,1160 Z" fill="#ffffff" stroke="#1d1866" stroke-width="1.4" stroke-linejoin="round" vector-effect="non-scaling-stroke"/></g>
<g transform="translate(1020,740) scale(0.181620)"><path d="M742,958 L1040,1062 C1100,1058 1150,1075 1185,1100 C1215,1125 1245,1135 1248,1145 C1200,1155 1150,1160 1110,1152 L1030,1158 L742,1100 Z" fill="#ffffff" stroke="#1d1866" stroke-width="2.3" stroke-linejoin="round" vector-effect="non-scaling-stroke"/><path d="M1090,1062 C1105,1090 1105,1130 1090,1155" fill="none" stroke="#1d1866" stroke-width="1.0" stroke-linecap="round" vector-effect="non-scaling-stroke"/><path d="M633,1275 C650,1230 660,1195 674,1192 L763,1186 C800,1200 880,1290 918,1322 C915,1345 905,1355 890,1352 L739,1310 C700,1300 660,1290 633,1275 Z" fill="#ffffff" stroke="none"/><path d="M674,1192 L763,1186 C800,1200 880,1290 918,1322 C915,1345 905,1355 890,1352 L739,1310" fill="none" stroke="#1d1866" stroke-width="2.3" stroke-linecap="round" vector-effect="non-scaling-stroke"/><path d="M674,1192 C700,1220 690,1260 650,1282" fill="none" stroke="#1d1866" stroke-width="1.0" stroke-linecap="round" vector-effect="non-scaling-stroke"/></g>
<polygon points="815.0,1190.9 808.0,1188.1 808.0,1227.1 815.0,1229.9" fill="#bab8d4" stroke="#1d1866" stroke-width="1.6" stroke-linejoin="round"/>
<polygon points="815.0,1190.9 808.0,1188.1 856.2,1167.9 863.2,1170.7" fill="#bab8d4" stroke="#1d1866" stroke-width="1.6" stroke-linejoin="round"/>
<polygon points="815.0,1190.9 863.2,1170.7 863.2,1209.7 815.0,1229.9" fill="#bab8d4" stroke="#1d1866" stroke-width="1.6" stroke-linejoin="round"/>
<polygon points="833.4,1199.1 826.4,1196.3 826.4,1235.3 833.4,1238.1" fill="#bab8d4" stroke="#1d1866" stroke-width="1.6" stroke-linejoin="round"/>
<polygon points="833.4,1199.1 826.4,1196.3 874.6,1176.1 881.6,1178.9" fill="#bab8d4" stroke="#1d1866" stroke-width="1.6" stroke-linejoin="round"/>
<polygon points="833.4,1199.1 881.6,1178.9 881.6,1217.9 833.4,1238.1" fill="#f6f6fa" stroke="#1d1866" stroke-width="1.6" stroke-linejoin="round"/>
<g transform="matrix(1,-0.42,0,1,833.4,1199.1)">
<rect x="6.5" y="5.5" width="36" height="29" fill="#ffffff" stroke="#1d1866" stroke-width="0.9"/>
<text x="24.5" y="23" text-anchor="middle" font-family="Liberation Sans" font-weight="bold" font-size="9.5" fill="#2a2222">G-Pixel</text>
</g>
<polygon points="1082.6,1079.3 1075.6,1076.5 1075.6,1115.5 1082.6,1118.3" fill="#bab8d4" stroke="#1d1866" stroke-width="1.6" stroke-linejoin="round"/>
<polygon points="1082.6,1079.3 1075.6,1076.5 1123.8,1056.3 1130.8,1059.1" fill="#bab8d4" stroke="#1d1866" stroke-width="1.6" stroke-linejoin="round"/>
<polygon points="1082.6,1079.3 1130.8,1059.1 1130.8,1098.1 1082.6,1118.3" fill="#bab8d4" stroke="#1d1866" stroke-width="1.6" stroke-linejoin="round"/>
<polygon points="1101.0,1087.5 1094.0,1084.7 1094.0,1123.7 1101.0,1126.5" fill="#bab8d4" stroke="#1d1866" stroke-width="1.6" stroke-linejoin="round"/>
<polygon points="1101.0,1087.5 1094.0,1084.7 1142.2,1064.5 1149.2,1067.3" fill="#bab8d4" stroke="#1d1866" stroke-width="1.6" stroke-linejoin="round"/>
<polygon points="1101.0,1087.5 1149.2,1067.3 1149.2,1106.3 1101.0,1126.5" fill="#f6f6fa" stroke="#1d1866" stroke-width="1.6" stroke-linejoin="round"/>
<g transform="matrix(1,-0.42,0,1,1101,1087.5)">
<rect x="6.5" y="5.5" width="36" height="29" fill="#ffffff" stroke="#1d1866" stroke-width="0.9"/>
<text x="24.5" y="23" text-anchor="middle" font-family="Liberation Sans" font-weight="bold" font-size="9.5" fill="#2a2222">G-Pixel</text>
</g>
<polygon points="1344.9,970.7 1337.9,967.9 1337.9,1006.9 1344.9,1009.7" fill="#bab8d4" stroke="#1d1866" stroke-width="1.6" stroke-linejoin="round"/>
<polygon points="1344.9,970.7 1337.9,967.9 1386.1,947.7 1393.1,950.5" fill="#bab8d4" stroke="#1d1866" stroke-width="1.6" stroke-linejoin="round"/>
<polygon points="1344.9,970.7 1393.1,950.5 1393.1,989.5 1344.9,1009.7" fill="#bab8d4" stroke="#1d1866" stroke-width="1.6" stroke-linejoin="round"/>
<polygon points="1363.3,978.9 1356.3,976.1 1356.3,1015.1 1363.3,1017.9" fill="#bab8d4" stroke="#1d1866" stroke-width="1.6" stroke-linejoin="round"/>
<polygon points="1363.3,978.9 1356.3,976.1 1404.5,955.9 1411.5,958.7" fill="#bab8d4" stroke="#1d1866" stroke-width="1.6" stroke-linejoin="round"/>
<polygon points="1363.3,978.9 1411.5,958.7 1411.5,997.7 1363.3,1017.9" fill="#f6f6fa" stroke="#1d1866" stroke-width="1.6" stroke-linejoin="round"/>
<g transform="matrix(1,-0.42,0,1,1363.3,978.9)">
<rect x="6.5" y="5.5" width="36" height="29" fill="#ffffff" stroke="#1d1866" stroke-width="0.9"/>
<text x="24.5" y="23" text-anchor="middle" font-family="Liberation Sans" font-weight="bold" font-size="9.5" fill="#2a2222">G-Pixel</text>
</g>
<polygon points="1276.4,1078.3 1358.4,1046.4 1433.4,1077.9 1351.4,1109.8" fill="#f6f6fa" stroke="#1d1866" stroke-width="1.8" stroke-linejoin="round"/>
<polygon points="1276.4,1008.8 1358.4,977.9 1358.4,1046.4 1276.4,1078.3" fill="#f6f6fa" stroke="#1d1866" stroke-width="1.8" stroke-linejoin="round"/>
<polygon points="1288.0,1017.5 1349.7,992.4 1349.7,1043.5 1288.0,1066.7" fill="#ffffff" stroke="#1d1866" stroke-width="1.3" stroke-linejoin="round"/>
<g font-family="Liberation Sans" font-weight="bold" font-size="37.7" fill="#1d1866">
<text transform="matrix(0.82,-0.3428,0,1,896.1,1173.3)">ESL</text>
<text transform="matrix(0.82,-0.3428,0,1,896.6,1212.1)">TAG</text>
</g>
<polygon points="933.2,1471.5 836.8,1478.8 836.8,1481.2 933.6,1480.5" fill="#ffffff" stroke="#1d1866" stroke-width="1.8" stroke-linejoin="round"/>
<polygon points="934.4,1480.4 1003.4,1460.8 1002.8,1458.4 932.4,1471.6" fill="#ffffff" stroke="#1d1866" stroke-width="1.8" stroke-linejoin="round"/>
<polygon points="929.2,1477.6 951.3,1527.4 953.5,1526.6 937.6,1474.4" fill="#ffffff" stroke="#1d1866" stroke-width="1.8" stroke-linejoin="round"/>
<rect x="927.0" y="1438" width="13" height="38" fill="#ffffff" stroke="#1d1866" stroke-width="1.6"/>
<circle cx="933.4" cy="1476" r="5" fill="#ffffff"/>
<path d="M823,1396 L919.5,1353 C923,1341 927,1328 934.7,1321 L1026,1283 C1033,1280 1035,1286 1032,1293 C1018,1326 1006,1351 1009,1371 C1013,1386 1020,1394 1014.7,1399 L923,1442 C915,1445 907,1443 901,1440 L825,1401 C820,1398 821,1395 823,1396 Z" fill="#ffffff" stroke="#1d1866" stroke-width="2.3" stroke-linejoin="round"/>
<path d="M934.7,1321 C918,1356 911,1391 918,1416 C921,1431 915,1438 907,1440" fill="none" stroke="#1d1866" stroke-width="1"/>
<path d="M828,1399 L903,1436" fill="none" stroke="#1d1866" stroke-width="1"/>
<polygon points="1189.5,1363.7 1093.1,1371.0 1093.1,1373.4 1189.9,1372.7" fill="#ffffff" stroke="#1d1866" stroke-width="1.8" stroke-linejoin="round"/>
<polygon points="1190.7,1372.6 1259.7,1353.0 1259.1,1350.6 1188.7,1363.8" fill="#ffffff" stroke="#1d1866" stroke-width="1.8" stroke-linejoin="round"/>
<polygon points="1185.5,1369.8 1207.6,1419.6 1209.8,1418.8 1193.9,1366.6" fill="#ffffff" stroke="#1d1866" stroke-width="1.8" stroke-linejoin="round"/>
<rect x="1183.3" y="1330.2" width="13" height="38.0" fill="#ffffff" stroke="#1d1866" stroke-width="1.6"/>
<circle cx="1189.7" cy="1368.2" r="5" fill="#ffffff"/>
<path d="M1079.3,1288.2 L1175.8,1245.2 C1179.3,1233.2 1183.3,1220.2 1191.0,1213.2 L1282.3,1175.2 C1289.3,1172.2 1291.3,1178.2 1288.3,1185.2 C1274.3,1218.2 1262.3,1243.2 1265.3,1263.2 C1269.3,1278.2 1276.3,1286.2 1271.0,1291.2 L1179.3,1334.2 C1171.3,1337.2 1163.3,1335.2 1157.3,1332.2 L1081.3,1293.2 C1076.3,1290.2 1077.3,1287.2 1079.3,1288.2 Z" fill="#ffffff" stroke="#1d1866" stroke-width="2.3" stroke-linejoin="round"/>
<path d="M1191.0,1213.2 C1174.3,1248.2 1167.3,1283.2 1174.3,1308.2 C1177.3,1323.2 1171.3,1330.2 1163.3,1332.2" fill="none" stroke="#1d1866" stroke-width="1"/>
<path d="M1084.3,1291.2 L1159.3,1328.2" fill="none" stroke="#1d1866" stroke-width="1"/>
<polygon points="1476.4,1292.4 1395.8,1304.8 1396.0,1307.2 1477.4,1301.4" fill="#ffffff" stroke="#1d1866" stroke-width="1.8" stroke-linejoin="round"/>
<polygon points="1478.1,1301.2 1546.9,1279.6 1546.3,1277.2 1475.7,1292.6" fill="#ffffff" stroke="#1d1866" stroke-width="1.8" stroke-linejoin="round"/>
<polygon points="1472.8,1298.7 1501.4,1355.8 1503.6,1354.8 1481.0,1295.1" fill="#ffffff" stroke="#1d1866" stroke-width="1.8" stroke-linejoin="round"/>
<rect x="1476.5" y="1255" width="12" height="41.90000000000009" fill="#ffffff" stroke="#1d1866" stroke-width="1.6"/>
<circle cx="1476.9" cy="1296.9" r="5" fill="#ffffff"/>
<g transform="translate(1280,960) scale(0.249813)"><path d="M656,406 L672,378 C700,355 740,335 761,324 C765,300 775,290 793,273 L796,251 L933,251 C960,252 1000,262 1047,279 C1065,300 1075,320 1080,343 C1090,400 1095,440 1095,480 L1090,700 L1000,900 L690,850 L600,700 L627,502 C640,460 650,430 656,406 Z" fill="#ffffff" stroke="none"/><path d="M656,406 L672,378 C700,355 740,335 761,324 C765,300 775,290 793,273" fill="none" stroke="#1d1866" stroke-width="2.3" stroke-linecap="round" vector-effect="non-scaling-stroke"/><path d="M933,251 C960,252 1000,262 1047,279 C1065,300 1075,320 1080,343 C1090,400 1095,440 1095,480 L1092,560" fill="none" stroke="#1d1866" stroke-width="2.3" stroke-linecap="round" vector-effect="non-scaling-stroke"/><path d="M764,321 C820,300 880,270 936,251" fill="none" stroke="#1d1866" stroke-width="1.0" stroke-linecap="round" vector-effect="non-scaling-stroke"/><path d="M757,-47 L768,-39 C780,-33 790,-30 800,-29 L819,-36 L863,-36 C890,-30 915,-20 936,-7 C955,10 968,25 975,41 C985,60 992,80 994,98 C996,115 993,130 990,143 C985,160 980,175 971,190 C960,205 948,218 936,229 L933,251 L796,251 L793,273 C785,280 780,285 774,289 L761,324 L740,300 L726,238 C723,210 722,190 722,174 C722,160 723,148 723,136 L733,117 C728,110 723,105 723,98 L723,69 L736,47 C728,40 725,32 725,25 C725,10 726,0 726,-10 C735,-25 745,-38 757,-47 Z" fill="#ffffff" stroke="none"/><path d="M757,-47 L768,-39 C780,-33 790,-30 800,-29 L819,-36 L863,-36 C890,-30 915,-20 936,-7 C955,10 968,25 975,41 C985,60 992,80 994,98 C996,115 993,130 990,143 C985,160 980,175 971,190 C960,205 948,218 936,229 L933,251" fill="none" stroke="#1d1866" stroke-width="2.3" stroke-linecap="round" vector-effect="non-scaling-stroke"/><path d="M761,324 C765,300 775,290 793,273 L796,251 C780,248 760,250 735,248 C727,240 724,232 722,210 C722,190 722,170 723,136 L733,117 C728,110 723,105 723,98 L723,69 L736,47 C728,40 725,32 725,25 C725,10 726,0 726,-10 C735,-25 745,-38 757,-47" fill="none" stroke="#1d1866" stroke-width="2.3" stroke-linecap="round" vector-effect="non-scaling-stroke"/><path d="M736,47 C750,55 760,60 761,63 C758,75 757,90 758,101 C765,115 775,130 777,143 C776,165 776,185 774,200 C765,210 755,212 749,213 C745,200 743,190 742,184" fill="none" stroke="#1d1866" stroke-width="1.0" stroke-linecap="round" vector-effect="non-scaling-stroke"/><path d="M796,168 C810,175 830,195 838,206 C830,220 825,228 819,232 C812,215 810,200 805,185" fill="none" stroke="#1d1866" stroke-width="1.0" stroke-linecap="round" vector-effect="non-scaling-stroke"/><path d="M819,168 C840,190 850,210 863,222 C880,235 895,242 911,244" fill="none" stroke="#1d1866" stroke-width="1.0" stroke-linecap="round" vector-effect="non-scaling-stroke"/><path d="M1060,282 L1105,300 L1105,420 L1090,430 Z" fill="#ffffff" stroke="#1d1866" stroke-width="1.6" stroke-linejoin="round" vector-effect="non-scaling-stroke"/><path d="M960,1120 L1040,1160 L1110,1130 L1110,1040 L1040,1070 L960,1050 Z" fill="#ffffff" stroke="#1d1866" stroke-width="1.6" stroke-linejoin="round" vector-effect="non-scaling-stroke"/><path d="M805,640 L1165,462 C1190,455 1200,475 1192,500 C1130,670 1105,790 1115,890 C1125,950 1150,990 1140,1020 C1050,1080 900,1150 780,1205 C740,1210 700,1190 690,1160 C670,1050 655,960 665,900 C690,820 760,700 805,640 Z" fill="#ffffff" stroke="none"/><path d="M1165,462 C1190,455 1200,475 1192,500 C1130,670 1105,790 1115,890 C1125,950 1150,990 1140,1020 C1050,1080 900,1150 787,1195 C770,1203 760,1206 750,1206 C730,1205 720,1200 713,1195 L557,1095" fill="none" stroke="#1d1866" stroke-width="2.3" stroke-linecap="round" vector-effect="non-scaling-stroke"/><path d="M805,640 L1165,462" fill="none" stroke="#1d1866" stroke-width="1.0" stroke-linecap="round" vector-effect="non-scaling-stroke"/><path d="M812,652 L1180,478" fill="none" stroke="#1d1866" stroke-width="1.0" stroke-linecap="round" vector-effect="non-scaling-stroke"/><path d="M805,640 C770,700 700,800 694,794 C680,840 660,880 657,909 C655,960 660,1000 665,1020 C690,1090 720,1140 739,1169" fill="none" stroke="#1d1866" stroke-width="1.0" stroke-linecap="round" vector-effect="non-scaling-stroke"/><path d="M812,650 C790,720 720,880 706,946 C705,1000 712,1060 717,1095 C725,1140 740,1170 750,1185" fill="none" stroke="#1d1866" stroke-width="1.0" stroke-linecap="round" vector-effect="non-scaling-stroke"/><path d="M400,1012 L557,1095 L564,1254 C565,1290 562,1318 561,1318 C540,1340 520,1347 501,1347 C470,1330 455,1305 446,1288 L431,1162 L404,1069 Z" fill="#ffffff" stroke="none"/><path d="M557,1095 L564,1254 C565,1290 562,1318 561,1318 C540,1340 520,1347 501,1347 C470,1330 455,1305 446,1288 L397,1243" fill="none" stroke="#1d1866" stroke-width="2.3" stroke-linecap="round" vector-effect="non-scaling-stroke"/><path d="M431,1162 C440,1230 470,1260 560,1260" fill="none" stroke="#1d1866" stroke-width="1.0" stroke-linecap="round" vector-effect="non-scaling-stroke"/><path d="M397,1069 L404,1069 L431,1162 L397,1162 Z" fill="#f7f7fa" stroke="#1d1866" stroke-width="2.0" stroke-linejoin="round" vector-effect="non-scaling-stroke"/><path d="M690,850 C600,810 450,735 332,725 L291,729 C265,740 250,755 246,775 C236,800 234,815 234,820 L246,1121 L255,1255 L125,1238 C105,1248 108,1278 130,1290 L270,1370 C300,1400 350,1410 375,1385 L382,1340 L395,1140 L400,1010 L396,934 L713,1117 L700,900 Z" fill="#ffffff" stroke="none"/><path d="M332,725 L291,729 C265,740 250,755 246,775 C236,800 234,815 234,820 L246,1121 L255,1255 L125,1238 C105,1248 108,1278 130,1290 L270,1370 C300,1400 350,1410 375,1385 L382,1340 L395,1140 L400,1010 L396,934" fill="none" stroke="#1d1866" stroke-width="2.3" stroke-linecap="round" vector-effect="non-scaling-stroke"/><path d="M255,1255 C260,1300 270,1330 380,1340" fill="none" stroke="#1d1866" stroke-width="1.0" stroke-linecap="round" vector-effect="non-scaling-stroke"/><path d="M336,729 C450,760 570,810 673,859" fill="none" stroke="#1d1866" stroke-width="1.0" stroke-linecap="round" vector-effect="non-scaling-stroke"/><path d="M396,934 L713,1117" fill="none" stroke="#1d1866" stroke-width="1.0" stroke-linecap="round" vector-effect="non-scaling-stroke"/><path d="M412,950 L690,1105 C705,1112 715,1118 713,1120" fill="none" stroke="#1d1866" stroke-width="1.0" stroke-linecap="round" vector-effect="non-scaling-stroke"/><path d="M401,980 L713,1136" fill="none" stroke="#1d1866" stroke-width="1.0" stroke-linecap="round" vector-effect="non-scaling-stroke"/><path d="M401,1006 L687,1162" fill="none" stroke="#1d1866" stroke-width="1.0" stroke-linecap="round" vector-effect="non-scaling-stroke"/><path d="M627,502 C650,460 665,420 677,384 C720,400 760,430 773,457 C775,500 770,530 768,547 L700,775 L677,793 L609,775 L418,684 L391,684 C370,680 360,670 364,675 L350,647 L314,629 L232,588 L232,575 L314,557 L382,566 L414,597 L441,597 L614,659 Z" fill="#ffffff" stroke="none"/><path d="M677,384 C720,400 760,430 773,457 C775,500 770,530 768,547 L700,775 C690,790 680,795 677,793 L609,775 L418,684" fill="none" stroke="#1d1866" stroke-width="1.0" stroke-linecap="round" vector-effect="non-scaling-stroke"/><path d="M441,597 L614,659 L627,502" fill="none" stroke="#1d1866" stroke-width="2.3" stroke-linecap="round" vector-effect="non-scaling-stroke"/><path d="M232,575 L314,557 C340,553 370,556 382,566 C400,575 410,590 414,597 M232,588 L314,629 C335,640 345,645 350,647 C355,660 358,670 364,675 C375,682 385,684 391,684" fill="none" stroke="#1d1866" stroke-width="2.3" stroke-linecap="round" vector-effect="non-scaling-stroke"/><path d="M414,597 C405,620 400,650 418,684" fill="none" stroke="#1d1866" stroke-width="1.0" stroke-linecap="round" vector-effect="non-scaling-stroke"/><path d="M473,411 C480,390 490,380 496,379 C520,372 540,370 555,370 C580,385 610,400 632,411 L655,407 L627,470 L573,466 L527,443 L486,457 C476,452 472,445 473,438 Z" fill="#ffffff" stroke="#1d1866" stroke-width="2.3" stroke-linejoin="round" vector-effect="non-scaling-stroke"/></g>
<path d="M831.2,922 L831.2,1158" fill="none" stroke="#1d1866" stroke-width="1.5" stroke-dasharray="1.5 3.5"/>
<circle cx="831.2" cy="1160" r="2.6" fill="#1d1866"/>
</svg>
</body></html>
